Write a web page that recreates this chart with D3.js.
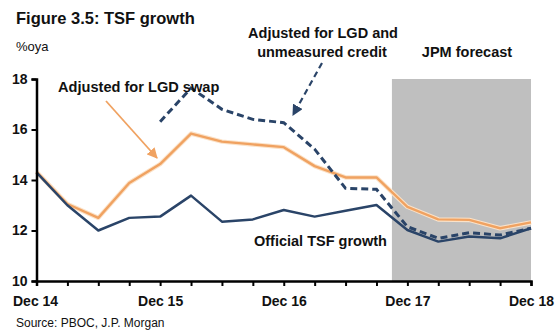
<!DOCTYPE html>
<html>
<head>
<meta charset="utf-8">
<script src="https://cdn.jsdelivr.net/npm/d3@7"></script>
<style>
  body { margin: 0; background: #fff; }
  svg { display: block; font-family: "Liberation Sans", Arial, sans-serif; }
</style>
</head>
<body>
<div id="chart"></div>
<script>
// quarterly points, Dec 14 .. Dec 18
var quarters = ["Dec 14","Mar 15","Jun 15","Sep 15","Dec 15","Mar 16","Jun 16","Sep 16",
                "Dec 16","Mar 17","Jun 17","Sep 17","Dec 17","Mar 18","Jun 18","Sep 18","Dec 18"];
var tickLabels = ["Dec 14","Dec 15","Dec 16","Dec 17","Dec 18"];

var officialTsf = [14.3, 13.0, 12.0, 12.5, 12.55, 13.38, 12.35, 12.44, 12.81,
                   12.55, 12.78, 13.01, 12.02, 11.56, 11.76, 11.69, 12.09];
var lgdSwap = [14.32, 13.05, 12.5, 13.88, 14.63, 15.84, 15.52, 15.41, 15.3,
               14.55, 14.1, 14.1, 12.94, 12.44, 12.42, 12.09, 12.32];
var lgdUnmeasured = [null, null, null, null, 16.31, 17.64, 16.8, 16.4, 16.27,
                     15.22, 13.67, 13.63, 12.15, 11.69, 11.91, 11.82, 12.09];

var forecastFrom = "Sep 17"; // shaded area starts half a quarter after this

var W = 560, H = 336;
var margin = {top: 79, right: 29, bottom: 55, left: 36.5};
var w = W - margin.left - margin.right,
    h = H - margin.top - margin.bottom;

var navy = "#2a4468", orange = "#f0a261";

var svg = d3.select("#chart").append("svg")
    .attr("width", W)
    .attr("height", H);

var g = svg.append("g")
    .attr("transform", "translate(" + margin.left + "," + margin.top + ")");

var x = d3.scalePoint().domain(quarters).range([0, w]);
var y = d3.scaleLinear().domain([10, 18]).range([h, 0]);
var step = x.step();

// forecast shading
g.append("rect")
    .attr("x", x(forecastFrom) + step / 2)
    .attr("y", y(18))
    .attr("width", x("Dec 18") - x(forecastFrom) - step / 2)
    .attr("height", y(10) - y(18))
    .attr("fill", "#bfbfbf");

var line = d3.line()
    .defined(function(d) { return d != null; })
    .x(function(d, i) { return x(quarters[i]); })
    .y(function(d) { return y(d); });

// soft halo under the orange line
g.append("path")
    .datum(lgdSwap)
    .attr("d", line)
    .attr("fill", "none")
    .attr("stroke", "#fbe2c8")
    .attr("stroke-width", 4.5)
    .attr("stroke-linejoin", "round");

g.append("path")
    .datum(lgdSwap)
    .attr("d", line)
    .attr("fill", "none")
    .attr("stroke", orange)
    .attr("stroke-width", 2.4)
    .attr("stroke-linejoin", "round");

g.append("path")
    .datum(officialTsf)
    .attr("d", line)
    .attr("fill", "none")
    .attr("stroke", navy)
    .attr("stroke-width", 2.5)
    .attr("stroke-linejoin", "round");

g.append("path")
    .datum(lgdUnmeasured)
    .attr("d", line)
    .attr("fill", "none")
    .attr("stroke", navy)
    .attr("stroke-width", 3)
    .attr("stroke-dasharray", "7,4");

// axes
var yAxis = g.append("g")
    .call(d3.axisLeft(y).tickValues([10, 12, 14, 16, 18]).tickSize(5).tickPadding(4));

var xAxis = g.append("g")
    .attr("transform", "translate(0," + h + ")")
    .call(d3.axisBottom(x).tickSize(5).tickPadding(10)
      .tickFormat(function(d) { return tickLabels.indexOf(d) >= 0 ? d : ""; }));

[xAxis, yAxis].forEach(function(a) {
  a.select(".domain").attr("stroke", "#000").attr("stroke-width", 2.5);
  a.selectAll(".tick line").attr("stroke", "#000").attr("stroke-width", 2);
  a.selectAll("text")
      .attr("fill", "#111")
      .attr("font-size", "14px")
      .attr("font-weight", "bold")
      .attr("font-family", "'Liberation Sans', Arial, sans-serif");
});
xAxis.selectAll("text").filter(function(d) { return d == "Dec 14"; })
    .attr("text-anchor", "start").attr("dx", "-24");

// arrowheads
var defs = svg.append("defs");
function arrowHead(id, color, size) {
  defs.append("marker")
      .attr("id", id)
      .attr("viewBox", "0 0 10 10")
      .attr("refX", 9).attr("refY", 5)
      .attr("markerWidth", size).attr("markerHeight", size)
      .attr("markerUnits", "strokeWidth")
      .attr("orient", "auto")
    .append("path")
      .attr("d", "M0,0 L10,5 L0,10 z")
      .attr("fill", color);
}
arrowHead("headOrange", orange, 6);
arrowHead("headNavy", navy, 5);

svg.append("line")
    .attr("x1", 106).attr("y1", 101)
    .attr("x2", 157).attr("y2", 158)
    .attr("stroke", orange)
    .attr("stroke-width", 1.8)
    .attr("marker-end", "url(#headOrange)");

svg.append("line")
    .attr("x1", 322).attr("y1", 63)
    .attr("x2", 293).attr("y2", 115)
    .attr("stroke", navy)
    .attr("stroke-width", 2.2)
    .attr("stroke-dasharray", "6,4")
    .attr("marker-end", "url(#headNavy)");

// text
function label(tx, ty, str, size, weight, anchor) {
  svg.append("text")
      .attr("x", tx).attr("y", ty)
      .attr("font-size", size + "px")
      .attr("font-weight", weight)
      .attr("text-anchor", anchor || "start")
      .attr("fill", "#111")
      .text(str);
}
label(16, 24, "Figure 3.5: TSF growth", 16.5, "bold");
label(16, 51, "%oya", 13, "normal");
label(58, 92, "Adjusted for LGD swap", 14.6, "bold");
label(323, 38, "Adjusted for LGD and", 14.5, "bold", "middle");
label(322, 57, "unmeasured credit", 14.5, "bold", "middle");
label(467, 57, "JPM forecast", 14.5, "bold", "middle");
label(254, 246, "Official TSF growth", 14.5, "bold");
label(16, 327, "Source: PBOC, J.P. Morgan", 12, "normal");
</script>
</body>
</html>
